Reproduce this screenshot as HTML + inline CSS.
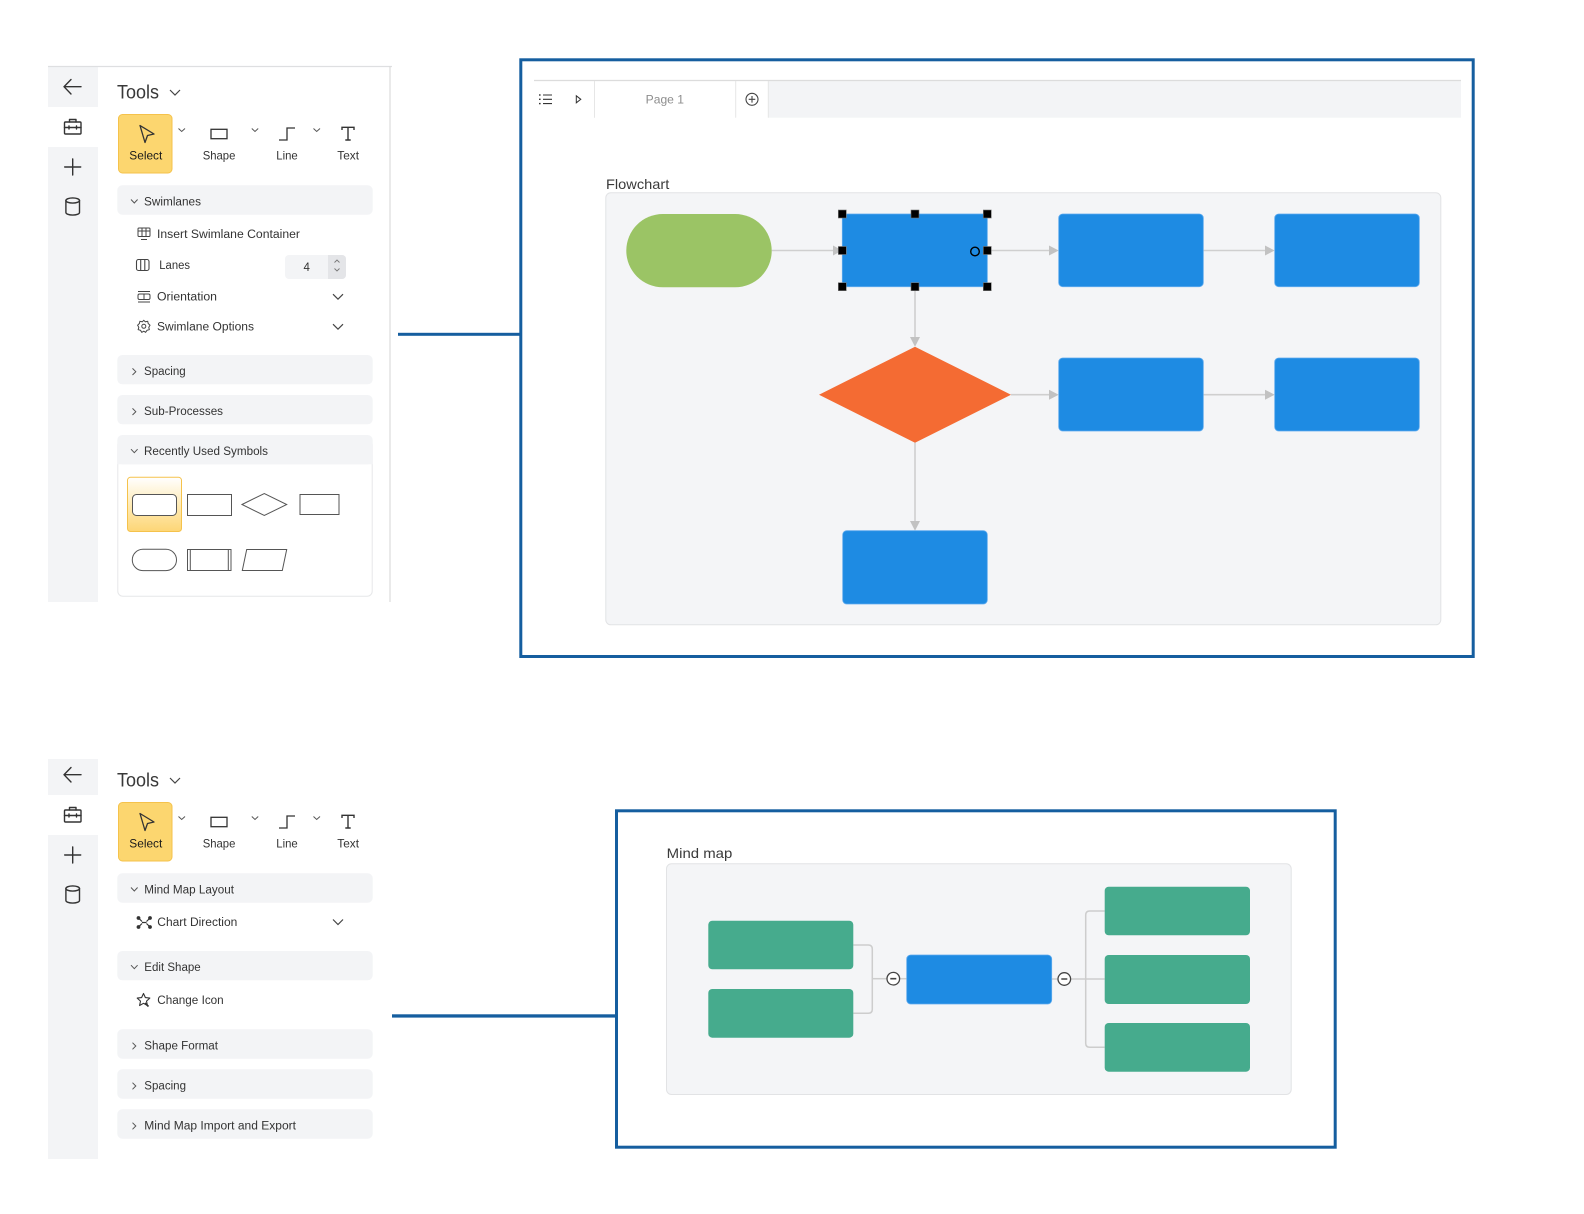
<!DOCTYPE html>
<html>
<head>
<meta charset="utf-8">
<style>
  html,body{margin:0;padding:0;background:#fff;}
  body{width:1584px;height:1214px;overflow:hidden;}
  svg{display:block;}
  text{font-family:"Liberation Sans", Arial, sans-serif;}
</style>
</head>
<body>
<svg width="1584" height="1214" viewBox="0 0 1584 1214" xmlns="http://www.w3.org/2000/svg">
  <rect x="0" y="0" width="1584" height="1214" fill="#ffffff"/>

  <!-- ================= TOP PANEL ================= -->
  <!-- sidebar -->
  <rect x="48" y="66" width="50" height="536" fill="#f3f4f6"/>
  <rect x="48" y="107" width="50" height="40" fill="#ffffff"/>
  <!-- panel top line & right border -->
  <line x1="48" y1="66.5" x2="392" y2="66.5" stroke="#dedfe1" stroke-width="1.2"/>
  <line x1="390" y1="66" x2="390" y2="602" stroke="#dcdcdc" stroke-width="1.2"/>

  <!-- sidebar icons -->
  <g fill="none" stroke="#333" stroke-width="1.4" stroke-linecap="round" stroke-linejoin="round">
    <path d="M64 86.7 H81 M71 79.5 L64 86.7 L71 94"/>
    <rect x="64.5" y="122" width="16.5" height="12" rx="1"/>
    <path d="M69.5 122 V119.5 H76 V122 M64.5 127.5 H81 M69 126 V129 M76.5 126 V129"/>
    <path d="M72.7 159 V175 M64.7 167 H80.7"/>
    <ellipse cx="72.7" cy="200.5" rx="6.8" ry="2.6"/>
    <path d="M65.9 200.5 V212.5 A6.8 2.6 0 0 0 79.5 212.5 V200.5"/>
  </g>

  <!-- Tools header -->
  <text x="117" y="98.5" font-size="19" fill="#393939" textLength="42" lengthAdjust="spacingAndGlyphs">Tools</text>
  <path d="M170 90 L175 95 L180 90" fill="none" stroke="#444" stroke-width="1.2"/>

  <!-- tool buttons -->
  <rect x="118.5" y="114.5" width="53.5" height="58.5" rx="4" fill="#fcd66f" stroke="#f5c24b" stroke-width="1"/>
  <path d="M140 125.5 L154 134 L147.5 135.5 L145 142.5 Z" fill="none" stroke="#333" stroke-width="1.3" stroke-linejoin="round"/>
  <text x="129.3" y="159.3" font-size="12" fill="#1a1a1a" textLength="33" lengthAdjust="spacingAndGlyphs">Select</text>
  <g fill="none" stroke="#555" stroke-width="1">
    <path d="M178.5 128.5 L181.7 131.5 L185 128.5"/>
    <path d="M251.8 128.5 L255 131.5 L258.2 128.5"/>
    <path d="M313.5 128.5 L316.7 131.5 L320 128.5"/>
  </g>
  <rect x="211" y="129.3" width="16" height="9.4" fill="none" stroke="#333" stroke-width="1.3"/>
  <text x="202.7" y="159.3" font-size="12" fill="#333" textLength="32.7" lengthAdjust="spacingAndGlyphs">Shape</text>
  <path d="M279 140 H287 V128 H295" fill="none" stroke="#333" stroke-width="1.3"/>
  <text x="276.3" y="159.3" font-size="12" fill="#333" textLength="21.4" lengthAdjust="spacingAndGlyphs">Line</text>
  <path d="M342 130 V127.3 H354 V130 M348 127.3 V140 M345.3 140 H350.7" fill="none" stroke="#333" stroke-width="1.4"/>
  <text x="337.3" y="159.3" font-size="12" fill="#333" textLength="21.7" lengthAdjust="spacingAndGlyphs">Text</text>

  <!-- Swimlanes section -->
  <rect x="117.3" y="185.3" width="255.4" height="29.4" rx="5" fill="#f3f4f6"/>
  <path d="M131 199.5 L134.3 203 L137.6 199.5" fill="none" stroke="#555" stroke-width="1"/>
  <text x="144" y="205.4" font-size="11.5" fill="#333" textLength="57" lengthAdjust="spacingAndGlyphs">Swimlanes</text>

  <!-- Insert Swimlane Container -->
  <g fill="none" stroke="#444" stroke-width="1">
    <rect x="138" y="228" width="12" height="8.5" rx="1"/>
    <path d="M138 231 H150 M142 228 V236.5 M146 228 V236.5 M141 239.5 H147"/>
  </g>
  <text x="157" y="238" font-size="11.5" fill="#333" textLength="143" lengthAdjust="spacingAndGlyphs">Insert Swimlane Container</text>

  <!-- Lanes -->
  <g fill="none" stroke="#444" stroke-width="1.1">
    <rect x="136.5" y="259.5" width="12.5" height="11" rx="2"/>
    <path d="M140.7 259.5 V270.5 M144.8 259.5 V270.5"/>
  </g>
  <text x="159.3" y="269" font-size="11.5" fill="#333" textLength="30.7" lengthAdjust="spacingAndGlyphs">Lanes</text>
  <rect x="285" y="255" width="61" height="24" rx="4" fill="#f3f4f6"/>
  <path d="M328 255 H342 A4 4 0 0 1 346 259 V275 A4 4 0 0 1 342 279 H328 Z" fill="#e4e5e8"/>
  <text x="303.5" y="271" font-size="11.5" fill="#333">4</text>
  <g fill="none" stroke="#777" stroke-width="0.9">
    <path d="M334.5 262.5 L337 260 L339.5 262.5"/>
    <path d="M334.5 268.5 L337 271 L339.5 268.5"/>
  </g>

  <!-- Orientation -->
  <g fill="none" stroke="#444" stroke-width="1">
    <path d="M138 291.5 H150"/>
    <rect x="138" y="294" width="12" height="5.5" rx="1.5"/>
    <path d="M144 294 V299.5 M138 302 H150"/>
  </g>
  <text x="157" y="300.7" font-size="11.5" fill="#333" textLength="60" lengthAdjust="spacingAndGlyphs">Orientation</text>
  <path d="M333 294.2 L338 299.2 L343 294.2" fill="none" stroke="#444" stroke-width="1.2"/>

  <!-- Swimlane Options -->
  <g fill="none" stroke="#444" stroke-width="1">
    <circle cx="143.8" cy="326.3" r="2"/>
    <path d="M143.8 320.3 L145.3 321.8 L147.7 321.3 L148.2 323.5 L150 325.2 L148.8 327.3 L149.3 329.6 L147 330.3 L145.6 332.3 L143.8 331.2 L141.8 332.3 L140.5 330.3 L138.2 329.6 L138.8 327.3 L137.6 325.2 L139.4 323.5 L139.9 321.3 L142.3 321.8 Z"/>
  </g>
  <text x="157" y="330.7" font-size="11.5" fill="#333" textLength="97" lengthAdjust="spacingAndGlyphs">Swimlane Options</text>
  <path d="M333 324.2 L338 329.2 L343 324.2" fill="none" stroke="#444" stroke-width="1.2"/>

  <!-- Spacing -->
  <rect x="117.3" y="355" width="255.4" height="29.3" rx="5" fill="#f3f4f6"/>
  <path d="M132.5 368.4 L135.8 371.7 L132.5 375" fill="none" stroke="#555" stroke-width="1"/>
  <text x="144" y="375.2" font-size="11.5" fill="#333" textLength="41.7" lengthAdjust="spacingAndGlyphs">Spacing</text>

  <!-- Sub-Processes -->
  <rect x="117.3" y="395" width="255.4" height="29.3" rx="5" fill="#f3f4f6"/>
  <path d="M132.5 408.4 L135.8 411.7 L132.5 415" fill="none" stroke="#555" stroke-width="1"/>
  <text x="144" y="415.2" font-size="11.5" fill="#333" textLength="79" lengthAdjust="spacingAndGlyphs">Sub-Processes</text>

  <!-- Recently Used Symbols -->
  <rect x="117.8" y="440" width="254.4" height="156.2" rx="5" fill="#ffffff" stroke="#e6e7e9" stroke-width="1"/>
  <rect x="117.3" y="435" width="255.4" height="29.3" rx="5" fill="#f3f4f6"/>
  <rect x="117.3" y="455" width="255.4" height="9.3" fill="#f3f4f6"/>
  <path d="M131 449.2 L134.3 452.7 L137.6 449.2" fill="none" stroke="#555" stroke-width="1"/>
  <text x="144" y="455.2" font-size="11.5" fill="#333" textLength="124" lengthAdjust="spacingAndGlyphs">Recently Used Symbols</text>

  <defs>
    <linearGradient id="tileg" x1="0" y1="0" x2="0" y2="1">
      <stop offset="0" stop-color="#ffffff"/>
      <stop offset="0.55" stop-color="#fee9b0"/>
      <stop offset="1" stop-color="#fdd676"/>
    </linearGradient>
  </defs>
  <rect x="127.5" y="477.3" width="54" height="54.2" rx="3" fill="url(#tileg)" stroke="#f5c24b" stroke-width="1"/>
  <g fill="none" stroke="#555" stroke-width="1">
    <rect x="132.5" y="494.5" width="44" height="21" rx="4" fill="#ffffff"/>
    <rect x="187.5" y="494.5" width="44" height="21"/>
    <path d="M242 504.5 L264.3 493.5 L286.7 504.5 L264.3 515.5 Z"/>
    <rect x="300" y="494.5" width="39" height="20"/>
    <rect x="132.3" y="549.3" width="44.2" height="21.3" rx="10.6"/>
    <rect x="187.5" y="549.5" width="43.5" height="21"/>
    <path d="M190.3 549.5 V570.5 M228.3 549.5 V570.5"/>
    <path d="M246.7 549.5 H286.7 L282.3 570.5 H242.3 Z"/>
  </g>

  <!-- connector top -->
  <rect x="398" y="332.8" width="122" height="3" fill="#155e9f"/>

  <!-- ================= FLOWCHART BOX ================= -->
  <rect x="520.8" y="59.8" width="952.4" height="596.7" fill="#ffffff" stroke="#155e9f" stroke-width="3"/>
  <!-- tab bar -->
  <rect x="768.3" y="80" width="692.7" height="37.7" fill="#f3f4f6"/>
  <line x1="534" y1="80.5" x2="1461" y2="80.5" stroke="#dcdcdc" stroke-width="1.2"/>
  <g stroke="#e6e6e6" stroke-width="1">
    <line x1="594.5" y1="81" x2="594.5" y2="117.7"/>
    <line x1="735.7" y1="81" x2="735.7" y2="117.7"/>
    <line x1="768.3" y1="81" x2="768.3" y2="117.7"/>
  </g>
  <g stroke="#333" stroke-width="1.1" fill="none">
    <path d="M543 95 H552 M543 99.3 H552 M543 103.6 H552"/>
  </g>
  <g fill="#333">
    <rect x="539" y="94.3" width="1.6" height="1.4"/>
    <rect x="539" y="98.6" width="1.6" height="1.4"/>
    <rect x="539" y="102.9" width="1.6" height="1.4"/>
  </g>
  <path d="M576.3 95.8 L580.8 99.3 L576.3 102.8 Z" fill="none" stroke="#333" stroke-width="1"/>
  <text x="645.7" y="103.5" font-size="12" fill="#8d8d8d" textLength="38.3" lengthAdjust="spacingAndGlyphs">Page 1</text>
  <circle cx="752" cy="99.3" r="6" fill="none" stroke="#444" stroke-width="1.1"/>
  <path d="M752 96 V102.6 M748.7 99.3 H755.3" stroke="#444" stroke-width="1.1"/>

  <!-- flowchart title + container -->
  <text x="606" y="189" font-size="14" fill="#3a3a3a" textLength="63.3" lengthAdjust="spacingAndGlyphs">Flowchart</text>
  <rect x="605.8" y="192.8" width="835" height="432" rx="5" fill="#f4f5f7" stroke="#e2e3e5" stroke-width="1"/>

  <!-- connectors -->
  <g stroke="#cfcfcf" stroke-width="1.6" fill="none">
    <line x1="771.7" y1="250.5" x2="834" y2="250.5"/>
    <line x1="987.3" y1="250.5" x2="1050" y2="250.5"/>
    <line x1="1203.3" y1="250.5" x2="1266" y2="250.5"/>
    <line x1="915" y1="286.7" x2="915" y2="338"/>
    <line x1="1011" y1="394.7" x2="1050" y2="394.7"/>
    <line x1="1203.3" y1="394.7" x2="1266" y2="394.7"/>
    <line x1="915" y1="442.7" x2="915" y2="522"/>
  </g>
  <g fill="#c2c2c2">
    <path d="M833 245.5 L842.3 250.5 L833 255.5 Z"/>
    <path d="M1049 245.5 L1058.7 250.5 L1049 255.5 Z"/>
    <path d="M1265 245.5 L1274.7 250.5 L1265 255.5 Z"/>
    <path d="M910 337 L915 346.7 L920 337 Z"/>
    <path d="M1049 389.7 L1058.7 394.7 L1049 399.7 Z"/>
    <path d="M1265 389.7 L1274.7 394.7 L1265 399.7 Z"/>
    <path d="M910 521 L915 530.7 L920 521 Z"/>
  </g>

  <!-- shapes -->
  <rect x="626.3" y="214" width="145.4" height="73.3" rx="36.6" fill="#9bc465"/>
  <g fill="#1e8be3" stroke="#5eaaee" stroke-width="0.8">
    <rect x="842.3" y="214" width="145" height="72.7" rx="1"/>
    <rect x="1058.7" y="214" width="144.6" height="72.7" rx="4"/>
    <rect x="1274.7" y="214" width="144.6" height="72.7" rx="4"/>
    <rect x="1058.7" y="358" width="144.6" height="73" rx="4"/>
    <rect x="1274.7" y="358" width="144.6" height="73" rx="4"/>
    <rect x="842.7" y="530.7" width="144.6" height="73.3" rx="4"/>
  </g>
  <path d="M915 346.7 L1011 394.7 L915 442.7 L819 394.7 Z" fill="#f46b33"/>

  <!-- selection handles -->
  <g fill="#000" stroke="#777" stroke-width="0.6">
    <rect x="838.3" y="210" width="8" height="8"/>
    <rect x="911" y="210" width="8" height="8"/>
    <rect x="983.3" y="210" width="8" height="8"/>
    <rect x="838.3" y="246.5" width="8" height="8"/>
    <rect x="983.3" y="246.5" width="8" height="8"/>
    <rect x="838.3" y="282.7" width="8" height="8"/>
    <rect x="911" y="282.7" width="8" height="8"/>
    <rect x="983.3" y="282.7" width="8" height="8"/>
  </g>
  <circle cx="975" cy="251.5" r="4.3" fill="none" stroke="#000" stroke-width="1.4"/>

  <!-- ================= BOTTOM PANEL ================= -->
  <rect x="48" y="759" width="50" height="400" fill="#f3f4f6"/>
  <rect x="48" y="795" width="50" height="40" fill="#ffffff"/>
  <g fill="none" stroke="#333" stroke-width="1.4" stroke-linecap="round" stroke-linejoin="round">
    <path d="M64 774.7 H81 M71 767.5 L64 774.7 L71 782"/>
    <rect x="64.5" y="810" width="16.5" height="12" rx="1"/>
    <path d="M69.5 810 V807.5 H76 V810 M64.5 815.5 H81 M69 814 V817 M76.5 814 V817"/>
    <path d="M72.7 847 V863 M64.7 855 H80.7"/>
    <ellipse cx="72.7" cy="888.5" rx="6.8" ry="2.6"/>
    <path d="M65.9 888.5 V900.5 A6.8 2.6 0 0 0 79.5 900.5 V888.5"/>
  </g>

  <text x="117" y="786.5" font-size="19" fill="#393939" textLength="42" lengthAdjust="spacingAndGlyphs">Tools</text>
  <path d="M170 778 L175 783 L180 778" fill="none" stroke="#444" stroke-width="1.2"/>

  <rect x="118.5" y="802.5" width="53.5" height="58.5" rx="4" fill="#fcd66f" stroke="#f5c24b" stroke-width="1"/>
  <path d="M140 813.5 L154 822 L147.5 823.5 L145 830.5 Z" fill="none" stroke="#333" stroke-width="1.3" stroke-linejoin="round"/>
  <text x="129.3" y="847.3" font-size="12" fill="#1a1a1a" textLength="33" lengthAdjust="spacingAndGlyphs">Select</text>
  <g fill="none" stroke="#555" stroke-width="1">
    <path d="M178.5 816.5 L181.7 819.5 L185 816.5"/>
    <path d="M251.8 816.5 L255 819.5 L258.2 816.5"/>
    <path d="M313.5 816.5 L316.7 819.5 L320 816.5"/>
  </g>
  <rect x="211" y="817.3" width="16" height="9.4" fill="none" stroke="#333" stroke-width="1.3"/>
  <text x="202.7" y="847.3" font-size="12" fill="#333" textLength="32.7" lengthAdjust="spacingAndGlyphs">Shape</text>
  <path d="M279 828 H287 V816 H295" fill="none" stroke="#333" stroke-width="1.3"/>
  <text x="276.3" y="847.3" font-size="12" fill="#333" textLength="21.4" lengthAdjust="spacingAndGlyphs">Line</text>
  <path d="M342 818 V815.3 H354 V818 M348 815.3 V828 M345.3 828 H350.7" fill="none" stroke="#333" stroke-width="1.4"/>
  <text x="337.3" y="847.3" font-size="12" fill="#333" textLength="21.7" lengthAdjust="spacingAndGlyphs">Text</text>

  <!-- Mind Map Layout -->
  <rect x="117.3" y="873.3" width="255.4" height="29.4" rx="5" fill="#f3f4f6"/>
  <path d="M131 887.5 L134.3 891 L137.6 887.5" fill="none" stroke="#555" stroke-width="1"/>
  <text x="144.3" y="893.4" font-size="11.5" fill="#333" textLength="89.7" lengthAdjust="spacingAndGlyphs">Mind Map Layout</text>

  <!-- Chart Direction -->
  <g stroke="#333" stroke-width="1.2" fill="none">
    <path d="M139 918.5 L142 921.5 M149.5 918.5 L146.5 921.5 M139 926.5 L142 923.5 M149.5 926.5 L146.5 923.5 M142 922.5 H146.5"/>
  </g>
  <g fill="#333">
    <circle cx="138.5" cy="918" r="1.9"/>
    <circle cx="150" cy="918" r="1.9"/>
    <circle cx="138.5" cy="927" r="1.9"/>
    <circle cx="150" cy="927" r="1.9"/>
  </g>
  <text x="157.3" y="926" font-size="11.5" fill="#333" textLength="80" lengthAdjust="spacingAndGlyphs">Chart Direction</text>
  <path d="M333 919.5 L338 924.5 L343 919.5" fill="none" stroke="#444" stroke-width="1.2"/>

  <!-- Edit Shape -->
  <rect x="117.3" y="951" width="255.4" height="29.3" rx="5" fill="#f3f4f6"/>
  <path d="M131 965.2 L134.3 968.7 L137.6 965.2" fill="none" stroke="#555" stroke-width="1"/>
  <text x="144.3" y="971.1" font-size="11.5" fill="#333" textLength="56.4" lengthAdjust="spacingAndGlyphs">Edit Shape</text>

  <!-- Change Icon -->
  <path d="M143.5 993.5 L145.4 997.6 L149.8 998.1 L146.5 1001.1 L147.4 1005.5 L143.5 1003.3 L139.6 1005.5 L140.5 1001.1 L137.2 998.1 L141.6 997.6 Z" fill="none" stroke="#333" stroke-width="1.1" stroke-linejoin="round"/>
  <path d="M145 1003 L148.5 1006.5" stroke="#333" stroke-width="1.6"/>
  <text x="157.3" y="1004" font-size="11.5" fill="#333" textLength="66.4" lengthAdjust="spacingAndGlyphs">Change Icon</text>

  <!-- Shape Format -->
  <rect x="117.3" y="1029.3" width="255.4" height="29.4" rx="5" fill="#f3f4f6"/>
  <path d="M132.5 1042.7 L135.8 1046 L132.5 1049.3" fill="none" stroke="#555" stroke-width="1"/>
  <text x="144.3" y="1049.5" font-size="11.5" fill="#333" textLength="73.7" lengthAdjust="spacingAndGlyphs">Shape Format</text>

  <!-- Spacing -->
  <rect x="117.3" y="1069.3" width="255.4" height="29.4" rx="5" fill="#f3f4f6"/>
  <path d="M132.5 1082.7 L135.8 1086 L132.5 1089.3" fill="none" stroke="#555" stroke-width="1"/>
  <text x="144.3" y="1089.5" font-size="11.5" fill="#333" textLength="41.7" lengthAdjust="spacingAndGlyphs">Spacing</text>

  <!-- Mind Map Import and Export -->
  <rect x="117.3" y="1109.3" width="255.4" height="29.4" rx="5" fill="#f3f4f6"/>
  <path d="M132.5 1122.7 L135.8 1126 L132.5 1129.3" fill="none" stroke="#555" stroke-width="1"/>
  <text x="144.3" y="1129.5" font-size="11.5" fill="#333" textLength="151.7" lengthAdjust="spacingAndGlyphs">Mind Map Import and Export</text>

  <!-- connector bottom -->
  <rect x="392" y="1014.3" width="224" height="3.3" fill="#155e9f"/>

  <!-- ================= MIND MAP BOX ================= -->
  <rect x="616.5" y="810.8" width="718.7" height="336.4" fill="#ffffff" stroke="#155e9f" stroke-width="3"/>
  <text x="666.7" y="858" font-size="14" fill="#3a3a3a" textLength="65.6" lengthAdjust="spacingAndGlyphs">Mind map</text>
  <rect x="666.5" y="863.8" width="624.7" height="230.7" rx="5" fill="#f4f5f7" stroke="#e2e3e5" stroke-width="1"/>

  <!-- mind map connectors -->
  <g fill="none" stroke="#cdcdcd" stroke-width="1.5">
    <path d="M853.3 945 H868.3 Q872.3 945 872.3 949 V1009.3 Q872.3 1013.3 868.3 1013.3 H853.3"/>
    <path d="M872.3 978.7 H887"/>
    <path d="M899.8 978.7 H906.7"/>
    <path d="M1051.7 979 H1058"/>
    <path d="M1070.8 979 H1104.7"/>
    <path d="M1104.7 911 H1089.7 Q1085.7 911 1085.7 915 V1043.3 Q1085.7 1047.3 1089.7 1047.3 H1104.7"/>
  </g>
  <g fill="#46ab8d">
    <rect x="708.3" y="920.7" width="145" height="48.6" rx="4"/>
    <rect x="708.3" y="989" width="145" height="48.7" rx="4"/>
    <rect x="1104.7" y="886.7" width="145.3" height="48.6" rx="4"/>
    <rect x="1104.7" y="955" width="145.3" height="49" rx="4"/>
    <rect x="1104.7" y="1023" width="145.3" height="48.7" rx="4"/>
  </g>
  <rect x="906.7" y="955" width="145" height="49" rx="4" fill="#1e8be3" stroke="#5eaaee" stroke-width="0.8"/>
  <g fill="#ffffff" stroke="#444" stroke-width="1.3">
    <circle cx="893.3" cy="978.7" r="6.3"/>
    <circle cx="1064.3" cy="979" r="6.3"/>
  </g>
  <path d="M890.3 978.7 H896.3 M1061.3 979 H1067.3" stroke="#444" stroke-width="1.6"/>
</svg>
</body>
</html>
